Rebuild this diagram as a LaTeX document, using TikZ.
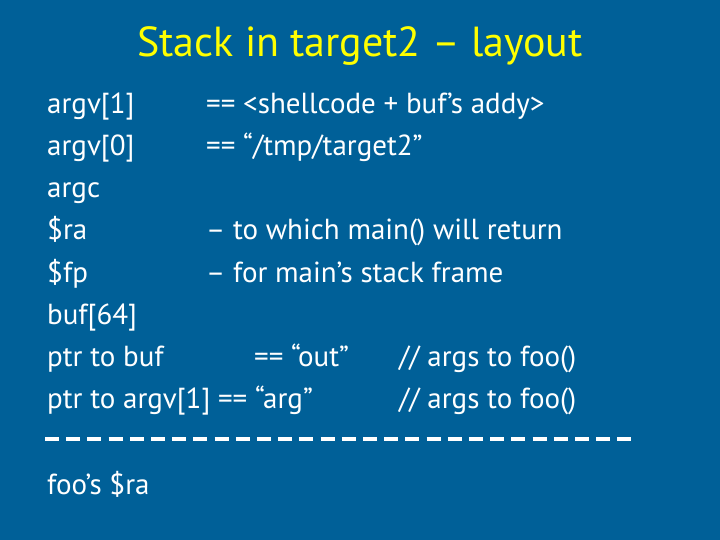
\documentclass[tikz,border=0pt]{standalone}
\usepackage{fontspec}
\setmainfont{PT Sans}
\begin{document}
\begin{tikzpicture}[x=1pt,y=-1pt,
  txt/.style={anchor=base west,inner sep=0pt,text=white,font=\fontsize{29}{32}\selectfont}]
\fill[fill={rgb,255:red,0;green,96;blue,152}] (0,0) rectangle (720,540);
\useasboundingbox (0,0) rectangle (720,540);
\node[anchor=base,inner sep=0pt,text={rgb,255:red,255;green,255;blue,0},font=\fontsize{42}{46}\selectfont] (title) at (360,57) {Stack in target2 – layout};
\node[txt] (a1) at (47,114) {argv[1]};
\node[txt] (a1r) at (206,114) {== <shellcode + buf’s addy>};
\node[txt] (a0) at (47,156) {argv[0]};
\node[txt] (a0r) at (206,156) {== “/tmp/target2”};
\node[txt] (ac) at (47,198) {argc};
\node[txt] (ra) at (47,240) {\$ra};
\node[txt] (rar) at (206,240) {– to which main() will return};
\node[txt] (fp) at (47,282) {\$fp};
\node[txt] (fpr) at (206,282) {– for main’s stack frame};
\node[txt] (buf) at (47,324) {buf[64]};
\node[txt] (p1) at (47,366) {ptr to buf};
\node[txt] (p1r) at (254,366) {== “out”};
\node[txt] (p1c) at (399,366) {// args to foo()};
\node[txt] (p2) at (47,408) {ptr to argv[1] == “arg”};
\node[txt] (p2c) at (399,408) {// args to foo()};
\coordinate (dl) at (45,439);
\coordinate (dr) at (637,439);
\draw[white,line width=3.5pt,dash pattern=on 14pt off 7.2pt] (dl) -- (dr);
\node[txt] (fra) at (47,494) {foo’s \$ra};
\end{tikzpicture}
\end{document}
